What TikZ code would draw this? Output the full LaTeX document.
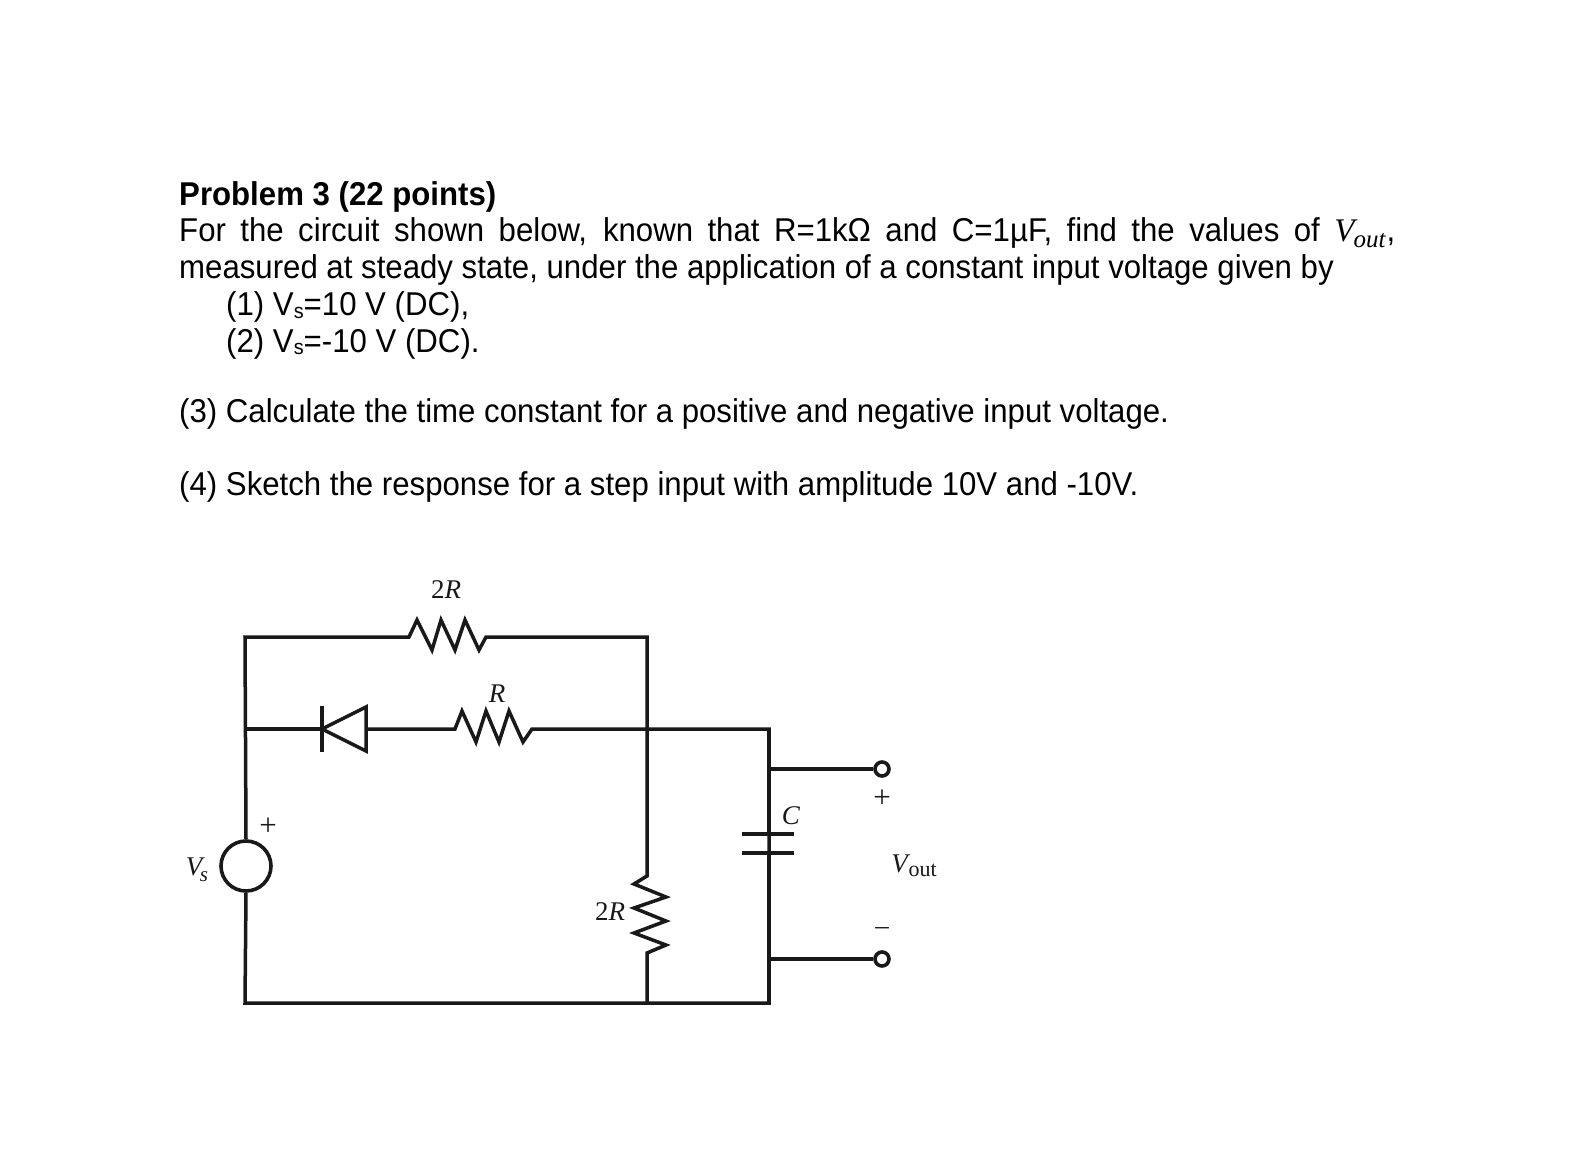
\documentclass[tikz,border=0pt]{standalone}
\usepackage{fontspec}
\usepackage{amsmath}
\usepackage{tikz}
\setmainfont[FakeStretch=0.945]{Liberation Sans}
\newfontfamily\circfont{Liberation Serif}
\newcommand{\subS}{\raisebox{-2pt}{\fontsize{21}{21}\selectfont s}}
\tikzset{
    txt/.style={anchor=base west, inner sep=0pt, font=\fontsize{33}{36}\selectfont},
    wire/.style={draw=black!90, line width=3.5pt, line join=miter},
    term/.style={circle, draw=black!90, fill=white, line width=3.6pt, minimum size=14pt, inner sep=0pt},
    lbl/.style={inner sep=0pt, text=black!90, font=\circfont\fontsize{27}{27}\selectfont}
}
\begin{document}
\begin{tikzpicture}[x=1pt,y=-1pt]
    \fill[white] (0,0) rectangle (1576,1166);
    \path[use as bounding box] (0,0) rectangle (1576,1166);
    % Problem text
    \node[txt] (title) at (179,206) {\textbf{Problem 3 (22 points)}};
    \node[txt] (line1) at (179,242) {\makebox[1216pt][s]{For the circuit shown below, known that R=1kΩ and C=1µF, find the values of {\circfont\itshape V\kern-1pt\raisebox{-6pt}{\fontsize{25}{25}\selectfont out}}\kern1pt,}};
    \node[txt] (line2) at (179,279) {measured at steady state, under the application of a constant input voltage given by};
    \node[txt] (case1) at (226,316) {(1) V\subS=10 V (DC),};
    \node[txt] (case2) at (226,352) {(2) V\subS=-10 V (DC).};
    \node[txt] (ask3) at (179,422) {(3) Calculate the time constant for a positive and negative input voltage.};
    \node[txt] (ask4) at (179,495) {(4) Sketch the response for a step input with amplitude 10V and -10V.};
    % Junctions
    \coordinate (tl) at (245,637);
    \coordinate (tm) at (647,637);
    \coordinate (dl) at (245,729);
    \coordinate (ml) at (647,729);
    \coordinate (mr) at (769,729);
    \coordinate (bl) at (245,1003);
    \coordinate (bm) at (647,1003);
    \coordinate (br) at (769,1003);
    \coordinate (pj) at (769,769);
    \coordinate (nj) at (769,959);
    % Source and terminals
    \node[circle, draw=black!90, line width=3.6pt, minimum size=50pt, inner sep=0pt] (vsrc) at (246,866) {};
    \node[term] (tplus) at (882,769) {};
    \node[term] (tminus) at (882,959) {};
    % Outer wires
    \coordinate (r2a) at (409,637);
    \coordinate (r2b) at (486,637);
    \draw[wire] (vsrc.north) -- (tl) -- (r2a) -- ++(8,-17) -- ++(15,30) -- ++(9,-30) -- ++(14,30) -- ++(10,-30) -- ++(14,30) -- (r2b) -- (tm) -- (ml);
    \draw[wire] (vsrc.south) -- (bl) -- (br) -- (mr) -- (ml);
    % Diode and R
    \coordinate (dk) at (322,729);
    \coordinate (da) at (366,729);
    \coordinate (r1a) at (455,729);
    \coordinate (r1b) at (532,729);
    \draw[wire] (dl) -- (dk);
    \draw[wire] (dk) ++(0,-23) -- ++(0,46);
    \draw[wire] (dk) -- ++(44,-22) -- ++(0,44) -- cycle;
    \draw[wire] (da) -- (r1a) -- ++(7,-18) -- ++(14,31) -- ++(10,-31) -- ++(13,31) -- ++(10,-31) -- ++(14,31) -- (r1b) -- (ml);
    % Lower 2R
    \coordinate (r3a) at (647,876);
    \coordinate (r3b) at (647,953);
    \draw[wire] (ml) -- (r3a) -- ++(-13,8) -- ++(32,13) -- ++(-32,11) -- ++(32,13) -- ++(-32,12) -- ++(32,12) -- (r3b) -- (bm);
    % Capacitor
    \coordinate (cta) at (769,834);
    \coordinate (ctb) at (769,853);
    \draw[wire] (mr) -- (cta);
    \draw[wire] (ctb) -- (br);
    \draw[wire, line width=4pt] (742,834) -- (794,834);
    \draw[wire, line width=4pt] (742,853) -- (794,853);
    \draw[wire] (pj) -- (tplus);
    \draw[wire] (nj) -- (tminus);
    % Labels
    \node[lbl] (l2rtop) at (446,590) {2\textit{R}};
    \node[lbl] (lr) at (497,694) {\textit{R}};
    \node[lbl] (l2rlow) at (610,912) {2\textit{R}};
    \node[lbl] (lc) at (791,816) {\textit{C}};
    \node[lbl] (lvs) at (197,870) {\textit{V}\kern-5pt\raisebox{-6pt}{\fontsize{21}{21}\selectfont\textit{s}}};
    \node[lbl] (lvout) at (914,866) {\textit{V}\kern-2pt\raisebox{-4pt}{\fontsize{22}{22}\selectfont out}};
    \node[lbl] (lplus) at (268,827) {\fontsize{31}{31}\selectfont +};
    \node[lbl] (lpo) at (882,799) {\fontsize{31}{31}\selectfont +};
    \node[lbl] (lmi) at (882,931) {\textendash};
\end{tikzpicture}
\end{document}
